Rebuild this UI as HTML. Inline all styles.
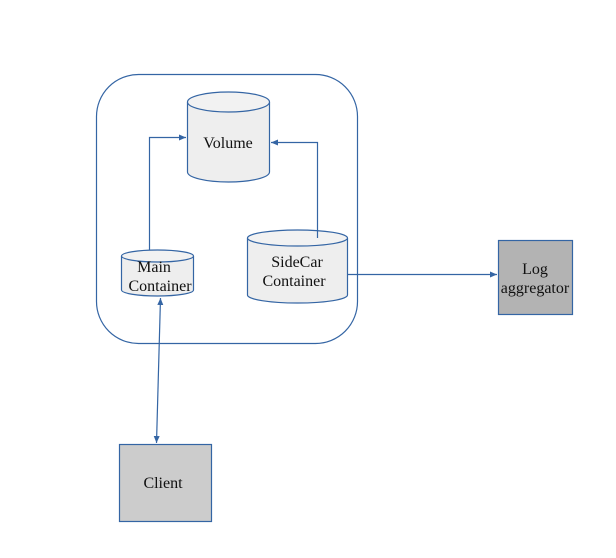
<!DOCTYPE html>
<html><head><style>body{margin:0;background:#fff}svg{display:block}</style></head><body>
<svg width="616" height="558" viewBox="0 0 616 558" xmlns="http://www.w3.org/2000/svg" font-family="Liberation Serif, serif" font-size="16" fill="#111">
<defs><marker id="a" markerWidth="8" markerHeight="8" refX="7" refY="4" orient="auto" markerUnits="userSpaceOnUse"><path d="M0,1 L7,4 L0,7z" fill="#3465a4"/></marker>
<marker id="s" markerWidth="8" markerHeight="8" refX="1" refY="4" orient="auto" markerUnits="userSpaceOnUse"><path d="M8,1 L1,4 L8,7z" fill="#3465a4"/></marker></defs>
<rect x="96.5" y="74.5" width="261" height="269" rx="42" fill="none" stroke="#3465a4" stroke-width="1.2"/>
<g stroke="#3465a4" stroke-width="1.2" fill="#eeeeee">
<path d="M187.5,102 L187.5,172 A41,10 0 0 0 269.5,172 L269.5,102"/>
<ellipse cx="228.5" cy="102" rx="41" ry="10" fill="#f2f2f2"/>
<path d="M121.5,256 L121.5,290 A36,6 0 0 0 193.5,290 L193.5,256"/>
<ellipse cx="157.5" cy="256" rx="36" ry="6" fill="#f2f2f2"/>
<path d="M247.5,238 L247.5,295 A50,8 0 0 0 347.5,295 L347.5,238"/>
<ellipse cx="297.5" cy="238" rx="50" ry="8" fill="#f2f2f2"/>
<rect x="498.5" y="240.5" width="74" height="74" fill="#b3b3b3"/>
<rect x="119.5" y="444.5" width="92" height="77" fill="#cccccc"/>
</g>
<g stroke="#3465a4" stroke-width="1.2" fill="none">
<path d="M149.5,250 L149.5,137.5 L186,137.5" marker-end="url(#a)"/>
<path d="M317.5,238 L317.5,142.5 L271,142.5" marker-end="url(#a)"/>
<path d="M347.5,274.5 L497,274.5" marker-end="url(#a)"/>
<path d="M160.5,298 L156.5,443" marker-start="url(#s)" marker-end="url(#a)"/>
</g>
<text x="228" y="148" text-anchor="middle">Volume</text>
<text x="154" y="272" text-anchor="middle">Main</text>
<text x="160" y="291" text-anchor="middle">Container</text>
<text x="297" y="267" text-anchor="middle">SideCar</text>
<text x="294" y="286" text-anchor="middle">Container</text>
<text x="535" y="274" text-anchor="middle">Log</text>
<text x="535" y="293" text-anchor="middle">aggregator</text>
<text x="163" y="488" text-anchor="middle">Client</text>
</svg>
</body></html>
